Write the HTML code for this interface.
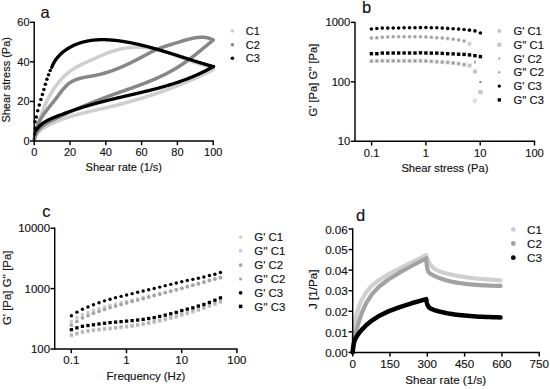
<!DOCTYPE html>
<html><head><meta charset="utf-8"><style>
html,body{margin:0;padding:0;background:#fff;}
svg{display:block;}
text{font-family:"Liberation Sans",sans-serif;fill:#111;stroke:#111;stroke-width:0.15px;}
</style></head><body>
<svg width="550" height="389" viewBox="0 0 550 389">
<rect width="550" height="389" fill="#fff"/>
<path d="M34.41,139 L34.64,138.09 L34.87,137.19 L35.1,136.29 L35.34,135.4 L35.57,134.5 L35.8,133.6 L36.03,132.71 L36.27,131.82 L36.5,130.92 L36.74,130.03 L36.98,129.14 L37.22,128.26 L37.46,127.37 L37.71,126.48 L37.96,125.6 L38.21,124.72 L38.46,123.84 L38.72,122.95 L38.98,122.08 L39.24,121.2 L39.51,120.32 L39.78,119.45 L40.06,118.57 L40.34,117.7 L40.62,116.83 L40.91,115.96 L41.2,115.09 L41.5,114.23 L41.8,113.36 L42.11,112.5 L42.43,111.63 L42.75,110.77 L43.08,109.91 L43.41,109.06 L43.75,108.2 L44.09,107.34 L44.45,106.49 L44.81,105.64 L45.17,104.79 L45.55,103.94 L45.93,103.09 L46.32,102.25 L46.71,101.41 L47.11,100.57 L47.52,99.73 L47.94,98.9 L48.36,98.07 L48.79,97.25 L49.23,96.43 L49.68,95.61 L50.13,94.8 L50.59,93.99 L51.06,93.19 L51.53,92.39 L52.02,91.59 L52.51,90.81 L53.01,90.02 L53.51,89.25 L54.03,88.48 L54.55,87.71 L55.08,86.95 L55.61,86.2 L56.16,85.46 L56.71,84.72 L57.27,83.99 L57.84,83.26 L58.41,82.55 L59,81.84 L59.59,81.14 L60.19,80.45 L60.8,79.76 L61.42,79.09 L62.04,78.42 L62.67,77.77 L63.32,77.12 L63.97,76.48 L64.62,75.85 L65.29,75.23 L65.96,74.62 L66.65,74.03 L67.34,73.44 L68.04,72.86 L68.75,72.29 L69.46,71.74 L70.19,71.2 L70.93,70.66 L71.67,70.14 L72.42,69.64 L73.18,69.14 L73.95,68.65 L74.72,68.17 L75.5,67.71 L76.29,67.25 L77.09,66.8 L77.89,66.36 L78.7,65.92 L79.51,65.5 L80.33,65.08 L81.15,64.66 L81.98,64.25 L82.81,63.85 L83.65,63.45 L84.49,63.06 L85.33,62.67 L86.17,62.29 L87.02,61.91 L87.87,61.53 L88.72,61.15 L89.57,60.77 L90.43,60.4 L91.28,60.03 L92.14,59.65 L93,59.28 L93.85,58.9 L94.71,58.53 L95.56,58.15 L96.42,57.77 L97.27,57.39 L98.12,57.01 L98.98,56.63 L99.83,56.26 L100.68,55.88 L101.53,55.5 L102.39,55.13 L103.24,54.76 L104.1,54.4 L104.95,54.04 L105.81,53.68 L106.67,53.34 L107.53,52.99 L108.39,52.66 L109.26,52.33 L110.13,52.02 L111,51.71 L111.87,51.41 L112.75,51.12 L113.63,50.84 L114.51,50.57 L115.39,50.31 L116.28,50.07 L117.17,49.83 L118.06,49.6 L118.95,49.38 L119.85,49.17 L120.74,48.97 L121.64,48.78 L122.54,48.61 L123.44,48.44 L124.35,48.28 L125.25,48.13 L126.16,47.99 L127.06,47.87 L127.97,47.75 L128.88,47.64 L129.79,47.55 L130.7,47.46 L131.61,47.39 L132.52,47.32 L133.43,47.27 L134.35,47.22 L135.26,47.19 L136.17,47.17 L137.09,47.15 L138,47.15 L138.91,47.16 L139.83,47.18 L140.74,47.21 L141.65,47.25 L142.56,47.3 L143.47,47.36 L144.38,47.44 L145.29,47.52 L146.2,47.61 L147.11,47.72 L148.02,47.83 L148.92,47.96 L149.83,48.1 L150.73,48.24 L151.63,48.4 L152.53,48.57 L153.43,48.75 L154.33,48.94 L155.23,49.14 L156.12,49.34 L157.01,49.56 L157.91,49.78 L158.8,50.02 L159.69,50.25 L160.58,50.5 L161.47,50.76 L162.36,51.02 L163.24,51.28 L164.13,51.56 L165.01,51.83 L165.9,52.12 L166.78,52.41 L167.66,52.7 L168.54,53 L169.42,53.3 L170.3,53.61 L171.18,53.91 L172.06,54.23 L172.94,54.54 L173.81,54.86 L174.69,55.18 L175.56,55.5 L176.44,55.82 L177.31,56.15 L178.19,56.47 L179.06,56.8 L179.94,57.12 L180.81,57.45 L181.68,57.77 L182.55,58.09 L183.42,58.42 L184.3,58.74 L185.17,59.06 L186.04,59.37 L186.91,59.69 L187.78,60 L188.65,60.31 L189.52,60.61 L190.39,60.91 L191.26,61.21 L192.13,61.5 L193,61.79 L193.87,62.08 L194.74,62.37 L195.61,62.65 L196.48,62.93 L197.35,63.2 L198.22,63.48 L199.09,63.76 L199.96,64.03 L200.83,64.31 L201.7,64.59 L202.57,64.86 L203.44,65.14 L204.31,65.42 L205.18,65.7 L206.05,65.98 L206.92,66.27 L207.79,66.56 L208.66,66.85 L209.54,67.15 L210.41,67.45 L211.28,67.75 L212.15,68.06 L213.03,68.38" fill="none" stroke="#cfcfcf" stroke-width="3.5" stroke-linecap="round" stroke-linejoin="round"/>
<path d="M213.13,69.65 L212.43,70.01 L211.73,70.37 L211.02,70.72 L210.32,71.08 L209.62,71.43 L208.92,71.78 L208.21,72.13 L207.51,72.47 L206.81,72.82 L206.1,73.16 L205.4,73.51 L204.69,73.85 L203.99,74.19 L203.28,74.53 L202.57,74.86 L201.86,75.2 L201.16,75.53 L200.45,75.86 L199.74,76.19 L199.03,76.52 L198.32,76.85 L197.61,77.18 L196.9,77.5 L196.19,77.83 L195.47,78.15 L194.76,78.47 L194.05,78.79 L193.33,79.11 L192.62,79.42 L191.91,79.74 L191.19,80.05 L190.48,80.37 L189.76,80.68 L189.04,80.99 L188.33,81.29 L187.61,81.6 L186.89,81.91 L186.17,82.21 L185.45,82.51 L184.74,82.81 L184.02,83.11 L183.3,83.41 L182.57,83.71 L181.85,84 L181.13,84.3 L180.41,84.59 L179.69,84.88 L178.96,85.17 L178.24,85.46 L177.52,85.75 L176.79,86.04 L176.07,86.32 L175.34,86.61 L174.62,86.89 L173.89,87.17 L173.16,87.45 L172.44,87.73 L171.71,88 L170.98,88.28 L170.25,88.55 L169.52,88.83 L168.79,89.1 L168.06,89.37 L167.33,89.64 L166.6,89.91 L165.87,90.18 L165.14,90.44 L164.41,90.71 L163.67,90.97 L162.94,91.23 L162.21,91.49 L161.47,91.75 L160.74,92.01 L160,92.26 L159.27,92.52 L158.53,92.77 L157.8,93.03 L157.06,93.28 L156.32,93.53 L155.59,93.78 L154.85,94.03 L154.11,94.27 L153.37,94.52 L152.63,94.77 L151.89,95.01 L151.15,95.25 L150.41,95.49 L149.67,95.73 L148.93,95.97 L148.19,96.21 L147.44,96.44 L146.7,96.68 L145.96,96.91 L145.21,97.15 L144.47,97.38 L143.73,97.61 L142.98,97.84 L142.24,98.07 L141.49,98.29 L140.74,98.52 L140,98.74 L139.25,98.97 L138.5,99.19 L137.75,99.41 L137.01,99.63 L136.26,99.85 L135.51,100.07 L134.76,100.29 L134.01,100.5 L133.26,100.72 L132.51,100.93 L131.75,101.14 L131,101.36 L130.25,101.57 L129.5,101.78 L128.74,101.98 L127.99,102.19 L127.24,102.4 L126.48,102.6 L125.73,102.81 L124.97,103.01 L124.22,103.21 L123.46,103.41 L122.71,103.61 L121.95,103.81 L121.19,104.01 L120.43,104.21 L119.68,104.4 L118.92,104.6 L118.16,104.79 L117.4,104.98 L116.64,105.17 L115.88,105.36 L115.12,105.55 L114.36,105.74 L113.6,105.93 L112.84,106.12 L112.07,106.3 L111.31,106.49 L110.55,106.67 L109.79,106.85 L109.02,107.04 L108.26,107.22 L107.49,107.4 L106.73,107.58 L105.96,107.75 L105.2,107.93 L104.43,108.11 L103.67,108.28 L102.9,108.46 L102.14,108.64 L101.37,108.81 L100.6,108.99 L99.84,109.16 L99.07,109.34 L98.3,109.51 L97.54,109.68 L96.77,109.86 L96.01,110.03 L95.24,110.21 L94.47,110.39 L93.71,110.56 L92.94,110.74 L92.18,110.92 L91.41,111.09 L90.65,111.27 L89.88,111.45 L89.12,111.63 L88.36,111.81 L87.59,112 L86.83,112.18 L86.07,112.37 L85.31,112.55 L84.55,112.74 L83.79,112.93 L83.03,113.12 L82.27,113.31 L81.51,113.51 L80.75,113.7 L80,113.9 L79.24,114.1 L78.49,114.3 L77.73,114.5 L76.98,114.71 L76.23,114.92 L75.48,115.13 L74.73,115.34 L73.98,115.55 L73.23,115.77 L72.48,115.99 L71.74,116.21 L70.99,116.44 L70.25,116.67 L69.51,116.9 L68.77,117.13 L68.03,117.37 L67.29,117.61 L66.55,117.85 L65.82,118.1 L65.08,118.35 L64.35,118.6 L63.62,118.86 L62.89,119.12 L62.16,119.39 L61.44,119.66 L60.71,119.93 L59.99,120.2 L59.27,120.48 L58.55,120.77 L57.83,121.06 L57.11,121.35 L56.4,121.64 L55.69,121.95 L54.98,122.25 L54.27,122.56 L53.56,122.88 L52.86,123.2 L52.15,123.52 L51.45,123.85 L50.76,124.18 L50.06,124.52 L49.36,124.87 L48.67,125.21 L47.98,125.57 L47.3,125.93 L46.61,126.29 L45.93,126.67 L45.26,127.05 L44.59,127.44 L43.93,127.84 L43.28,128.25 L42.63,128.68 L42,129.12 L41.39,129.58 L40.78,130.05 L40.2,130.54 L39.62,131.05 L39.07,131.58 L38.53,132.13 L38.02,132.71 L37.52,133.3 L37.05,133.92 L36.6,134.57 L36.18,135.25 L35.78,135.95 L35.41,136.69 L35.07,137.45 L34.75,138.25 L34.47,139.08" fill="none" stroke="#cfcfcf" stroke-width="3.5" stroke-linecap="round" stroke-linejoin="round"/>
<path d="M34.55,139.13 L34.58,138.16 L34.64,137.21 L34.71,136.27 L34.81,135.34 L34.93,134.43 L35.08,133.52 L35.24,132.63 L35.42,131.75 L35.63,130.88 L35.85,130.02 L36.09,129.17 L36.35,128.33 L36.63,127.5 L36.92,126.67 L37.24,125.86 L37.56,125.06 L37.91,124.26 L38.27,123.47 L38.64,122.69 L39.03,121.91 L39.43,121.15 L39.84,120.39 L40.27,119.63 L40.7,118.89 L41.15,118.14 L41.61,117.41 L42.08,116.67 L42.56,115.95 L43.05,115.22 L43.55,114.5 L44.05,113.79 L44.57,113.08 L45.09,112.37 L45.61,111.66 L46.15,110.96 L46.69,110.25 L47.23,109.55 L47.78,108.86 L48.33,108.16 L48.88,107.46 L49.44,106.77 L50,106.07 L50.56,105.38 L51.12,104.68 L51.68,103.98 L52.25,103.29 L52.81,102.59 L53.37,101.89 L53.93,101.18 L54.49,100.48 L55.04,99.77 L55.6,99.06 L56.14,98.34 L56.69,97.63 L57.23,96.91 L57.77,96.19 L58.3,95.46 L58.84,94.74 L59.38,94.02 L59.91,93.31 L60.45,92.59 L60.99,91.89 L61.54,91.19 L62.09,90.5 L62.64,89.81 L63.2,89.14 L63.77,88.47 L64.35,87.82 L64.93,87.18 L65.53,86.56 L66.14,85.95 L66.75,85.36 L67.38,84.79 L68.03,84.23 L68.69,83.7 L69.36,83.18 L70.05,82.69 L70.76,82.22 L71.48,81.78 L72.22,81.36 L72.98,80.96 L73.76,80.59 L74.54,80.24 L75.35,79.9 L76.16,79.59 L76.98,79.3 L77.82,79.02 L78.66,78.76 L79.51,78.51 L80.37,78.28 L81.23,78.06 L82.1,77.85 L82.97,77.65 L83.85,77.46 L84.73,77.28 L85.61,77.11 L86.5,76.95 L87.38,76.78 L88.27,76.63 L89.17,76.47 L90.06,76.32 L90.95,76.16 L91.84,76.01 L92.73,75.85 L93.62,75.69 L94.51,75.52 L95.39,75.35 L96.27,75.17 L97.15,74.99 L98.02,74.8 L98.9,74.6 L99.76,74.39 L100.63,74.18 L101.49,73.96 L102.35,73.74 L103.21,73.5 L104.07,73.27 L104.92,73.02 L105.77,72.77 L106.61,72.52 L107.46,72.26 L108.3,71.99 L109.14,71.72 L109.97,71.44 L110.81,71.15 L111.64,70.86 L112.47,70.57 L113.3,70.27 L114.13,69.97 L114.95,69.66 L115.77,69.34 L116.59,69.02 L117.41,68.7 L118.22,68.37 L119.04,68.04 L119.85,67.7 L120.66,67.36 L121.47,67.01 L122.28,66.66 L123.08,66.31 L123.89,65.95 L124.69,65.59 L125.49,65.22 L126.29,64.85 L127.09,64.48 L127.89,64.1 L128.69,63.72 L129.48,63.34 L130.28,62.96 L131.07,62.57 L131.86,62.18 L132.65,61.78 L133.44,61.38 L134.23,60.98 L135.02,60.58 L135.81,60.18 L136.6,59.77 L137.38,59.36 L138.17,58.95 L138.96,58.53 L139.74,58.12 L140.53,57.7 L141.31,57.28 L142.09,56.86 L142.88,56.44 L143.66,56.02 L144.45,55.6 L145.23,55.18 L146.02,54.76 L146.81,54.34 L147.59,53.93 L148.38,53.51 L149.17,53.11 L149.96,52.7 L150.75,52.3 L151.54,51.9 L152.34,51.51 L153.13,51.12 L153.93,50.74 L154.73,50.37 L155.53,50 L156.34,49.64 L157.15,49.29 L157.95,48.94 L158.77,48.61 L159.58,48.28 L160.4,47.97 L161.22,47.66 L162.04,47.36 L162.87,47.07 L163.7,46.79 L164.53,46.51 L165.36,46.24 L166.2,45.98 L167.04,45.71 L167.87,45.46 L168.72,45.2 L169.56,44.95 L170.4,44.7 L171.25,44.45 L172.1,44.19 L172.94,43.94 L173.79,43.69 L174.64,43.43 L175.49,43.17 L176.34,42.9 L177.2,42.64 L178.05,42.37 L178.9,42.1 L179.76,41.83 L180.61,41.57 L181.47,41.3 L182.32,41.04 L183.18,40.77 L184.04,40.52 L184.9,40.26 L185.76,40.02 L186.62,39.77 L187.48,39.54 L188.34,39.31 L189.21,39.09 L190.07,38.88 L190.94,38.68 L191.8,38.49 L192.67,38.31 L193.54,38.14 L194.41,37.98 L195.28,37.84 L196.15,37.71 L197.03,37.6 L197.9,37.5 L198.78,37.42 L199.65,37.35 L200.53,37.31 L201.41,37.28 L202.28,37.28 L203.16,37.3 L204.03,37.35 L204.89,37.43 L205.75,37.53 L206.61,37.66 L207.46,37.83 L208.31,38.03 L209.15,38.27 L209.98,38.54 L210.8,38.85 L211.61,39.2 L212.41,39.6 L213.21,40.04" fill="none" stroke="#878787" stroke-width="3.5" stroke-linecap="round" stroke-linejoin="round"/>
<path d="M212.94,40.24 L212.3,40.77 L211.66,41.31 L211.03,41.84 L210.39,42.37 L209.75,42.91 L209.11,43.44 L208.47,43.97 L207.83,44.51 L207.19,45.04 L206.55,45.57 L205.9,46.11 L205.26,46.64 L204.62,47.17 L203.97,47.71 L203.32,48.24 L202.68,48.77 L202.03,49.3 L201.38,49.83 L200.73,50.36 L200.08,50.89 L199.43,51.41 L198.77,51.94 L198.12,52.46 L197.46,52.99 L196.81,53.51 L196.15,54.03 L195.49,54.55 L194.83,55.06 L194.17,55.58 L193.5,56.09 L192.84,56.6 L192.17,57.11 L191.5,57.62 L190.84,58.12 L190.16,58.62 L189.49,59.12 L188.82,59.62 L188.14,60.12 L187.47,60.61 L186.79,61.1 L186.11,61.58 L185.42,62.07 L184.74,62.55 L184.05,63.03 L183.37,63.5 L182.68,63.97 L181.98,64.44 L181.29,64.9 L180.6,65.36 L179.9,65.82 L179.2,66.27 L178.5,66.72 L177.79,67.17 L177.09,67.61 L176.38,68.04 L175.67,68.48 L174.95,68.91 L174.24,69.33 L173.52,69.75 L172.8,70.17 L172.08,70.58 L171.36,70.98 L170.63,71.39 L169.9,71.79 L169.17,72.18 L168.44,72.57 L167.7,72.96 L166.97,73.35 L166.23,73.73 L165.49,74.1 L164.75,74.47 L164,74.84 L163.26,75.21 L162.51,75.57 L161.76,75.93 L161.01,76.29 L160.26,76.64 L159.51,76.99 L158.75,77.34 L157.99,77.68 L157.23,78.02 L156.47,78.36 L155.71,78.7 L154.95,79.03 L154.19,79.36 L153.42,79.69 L152.65,80.01 L151.88,80.33 L151.11,80.65 L150.34,80.97 L149.57,81.29 L148.8,81.6 L148.03,81.91 L147.25,82.22 L146.47,82.53 L145.7,82.83 L144.92,83.13 L144.14,83.44 L143.36,83.73 L142.58,84.03 L141.8,84.33 L141.01,84.62 L140.23,84.92 L139.45,85.21 L138.66,85.5 L137.88,85.79 L137.09,86.08 L136.31,86.36 L135.52,86.65 L134.73,86.93 L133.94,87.22 L133.15,87.5 L132.37,87.78 L131.58,88.06 L130.79,88.34 L130,88.62 L129.21,88.9 L128.42,89.18 L127.63,89.46 L126.83,89.74 L126.04,90.02 L125.25,90.29 L124.46,90.57 L123.67,90.85 L122.88,91.12 L122.09,91.4 L121.3,91.68 L120.51,91.96 L119.72,92.23 L118.93,92.51 L118.14,92.79 L117.34,93.07 L116.56,93.35 L115.77,93.63 L114.98,93.91 L114.19,94.19 L113.4,94.47 L112.61,94.75 L111.82,95.03 L111.04,95.32 L110.25,95.6 L109.46,95.89 L108.68,96.18 L107.89,96.46 L107.11,96.75 L106.33,97.05 L105.55,97.34 L104.76,97.63 L103.98,97.92 L103.2,98.22 L102.42,98.52 L101.64,98.81 L100.86,99.11 L100.08,99.41 L99.31,99.72 L98.53,100.02 L97.75,100.32 L96.98,100.63 L96.2,100.93 L95.43,101.24 L94.65,101.55 L93.88,101.86 L93.1,102.17 L92.33,102.48 L91.56,102.79 L90.78,103.1 L90.01,103.42 L89.24,103.73 L88.47,104.05 L87.7,104.37 L86.93,104.69 L86.16,105.01 L85.39,105.33 L84.62,105.65 L83.85,105.97 L83.08,106.3 L82.31,106.62 L81.54,106.95 L80.77,107.27 L80.01,107.6 L79.24,107.93 L78.47,108.26 L77.71,108.59 L76.94,108.92 L76.17,109.26 L75.41,109.59 L74.64,109.93 L73.87,110.26 L73.11,110.6 L72.34,110.94 L71.58,111.28 L70.81,111.62 L70.05,111.96 L69.28,112.3 L68.52,112.64 L67.75,112.98 L66.99,113.33 L66.22,113.67 L65.46,114.02 L64.69,114.37 L63.93,114.71 L63.17,115.06 L62.4,115.41 L61.64,115.76 L60.87,116.11 L60.11,116.47 L59.34,116.82 L58.58,117.17 L57.81,117.53 L57.05,117.88 L56.28,118.24 L55.52,118.6 L54.76,118.95 L53.99,119.32 L53.23,119.68 L52.47,120.05 L51.72,120.42 L50.97,120.79 L50.22,121.17 L49.48,121.56 L48.75,121.96 L48.03,122.36 L47.31,122.77 L46.6,123.2 L45.9,123.63 L45.22,124.07 L44.54,124.53 L43.88,124.99 L43.23,125.47 L42.59,125.97 L41.97,126.47 L41.36,127 L40.77,127.54 L40.19,128.09 L39.64,128.67 L39.1,129.26 L38.58,129.87 L38.08,130.5 L37.6,131.16 L37.15,131.83 L36.71,132.52 L36.3,133.24 L35.92,133.98 L35.55,134.75 L35.22,135.54 L34.91,136.35 L34.62,137.2 L34.37,138.07 L34.14,138.96" fill="none" stroke="#878787" stroke-width="3.5" stroke-linecap="round" stroke-linejoin="round"/>
<path d="M213.44,66.48 L212.77,66.87 L212.09,67.25 L211.42,67.64 L210.74,68.01 L210.07,68.39 L209.39,68.76 L208.71,69.12 L208.03,69.49 L207.35,69.85 L206.66,70.21 L205.98,70.56 L205.29,70.91 L204.6,71.26 L203.92,71.6 L203.23,71.94 L202.54,72.28 L201.84,72.61 L201.15,72.94 L200.46,73.27 L199.76,73.6 L199.06,73.92 L198.37,74.24 L197.67,74.55 L196.97,74.86 L196.26,75.17 L195.56,75.48 L194.86,75.79 L194.15,76.09 L193.45,76.39 L192.74,76.68 L192.04,76.98 L191.33,77.27 L190.62,77.55 L189.91,77.84 L189.2,78.12 L188.48,78.4 L187.77,78.68 L187.05,78.95 L186.34,79.23 L185.62,79.5 L184.91,79.76 L184.19,80.03 L183.47,80.29 L182.75,80.55 L182.03,80.81 L181.31,81.06 L180.59,81.32 L179.86,81.57 L179.14,81.82 L178.41,82.07 L177.69,82.31 L176.96,82.55 L176.24,82.79 L175.51,83.03 L174.78,83.27 L174.05,83.51 L173.32,83.74 L172.59,83.97 L171.86,84.2 L171.13,84.43 L170.4,84.65 L169.66,84.87 L168.93,85.1 L168.19,85.32 L167.46,85.54 L166.72,85.75 L165.99,85.97 L165.25,86.18 L164.52,86.39 L163.78,86.6 L163.04,86.81 L162.3,87.02 L161.56,87.23 L160.82,87.43 L160.08,87.64 L159.34,87.84 L158.6,88.04 L157.86,88.24 L157.12,88.44 L156.38,88.63 L155.63,88.83 L154.89,89.02 L154.15,89.22 L153.4,89.41 L152.66,89.6 L151.91,89.79 L151.17,89.98 L150.42,90.17 L149.68,90.36 L148.93,90.54 L148.19,90.73 L147.44,90.91 L146.7,91.1 L145.95,91.28 L145.2,91.46 L144.46,91.65 L143.71,91.83 L142.96,92.01 L142.21,92.19 L141.47,92.37 L140.72,92.54 L139.97,92.72 L139.22,92.9 L138.47,93.08 L137.73,93.25 L136.98,93.43 L136.23,93.6 L135.48,93.78 L134.73,93.96 L133.98,94.13 L133.24,94.3 L132.49,94.48 L131.74,94.65 L130.99,94.83 L130.24,95 L129.49,95.17 L128.75,95.35 L128,95.52 L127.25,95.69 L126.5,95.87 L125.75,96.04 L125.01,96.22 L124.26,96.39 L123.51,96.56 L122.76,96.74 L122.02,96.91 L121.27,97.09 L120.52,97.26 L119.78,97.44 L119.03,97.61 L118.28,97.79 L117.54,97.96 L116.79,98.14 L116.05,98.32 L115.3,98.49 L114.56,98.67 L113.81,98.85 L113.07,99.03 L112.33,99.21 L111.58,99.39 L110.84,99.57 L110.1,99.75 L109.36,99.93 L108.61,100.12 L107.87,100.3 L107.13,100.49 L106.39,100.67 L105.65,100.86 L104.91,101.04 L104.17,101.23 L103.43,101.42 L102.69,101.61 L101.96,101.8 L101.22,101.99 L100.48,102.19 L99.74,102.38 L99.01,102.58 L98.27,102.77 L97.53,102.97 L96.8,103.17 L96.06,103.37 L95.33,103.57 L94.59,103.77 L93.86,103.97 L93.12,104.18 L92.39,104.39 L91.66,104.59 L90.92,104.8 L90.19,105.01 L89.45,105.22 L88.72,105.43 L87.99,105.65 L87.26,105.86 L86.52,106.08 L85.79,106.3 L85.06,106.52 L84.33,106.74 L83.6,106.96 L82.86,107.19 L82.13,107.42 L81.4,107.64 L80.67,107.87 L79.94,108.11 L79.21,108.34 L78.48,108.57 L77.75,108.81 L77.02,109.05 L76.29,109.29 L75.56,109.53 L74.83,109.77 L74.1,110.02 L73.37,110.27 L72.64,110.52 L71.91,110.77 L71.18,111.02 L70.45,111.28 L69.72,111.54 L68.99,111.79 L68.26,112.06 L67.53,112.32 L66.8,112.58 L66.07,112.85 L65.34,113.11 L64.61,113.38 L63.88,113.65 L63.16,113.92 L62.43,114.2 L61.7,114.47 L60.97,114.74 L60.25,115.02 L59.52,115.3 L58.79,115.57 L58.07,115.85 L57.34,116.13 L56.62,116.41 L55.9,116.7 L55.18,116.98 L54.46,117.27 L53.74,117.56 L53.03,117.86 L52.32,118.16 L51.61,118.46 L50.91,118.77 L50.22,119.09 L49.53,119.41 L48.84,119.74 L48.16,120.08 L47.49,120.43 L46.83,120.79 L46.18,121.15 L45.53,121.53 L44.89,121.92 L44.26,122.31 L43.65,122.72 L43.04,123.15 L42.44,123.58 L41.85,124.03 L41.28,124.49 L40.72,124.97 L40.17,125.46 L39.63,125.96 L39.11,126.49 L38.6,127.03 L38.11,127.58 L37.63,128.16 L37.17,128.75 L36.72,129.36 L36.29,129.99 L35.88,130.64" fill="none" stroke="#000000" stroke-width="3.3" stroke-linecap="round" stroke-linejoin="round"/>
<path d="M51.75,67.36 L52.01,66.67 L52.29,65.98 L52.58,65.31 L52.89,64.64 L53.21,63.99 L53.54,63.34 L53.89,62.7 L54.25,62.07 L54.62,61.46 L55,60.85 L55.4,60.25 L55.81,59.66 L56.23,59.08 L56.66,58.51 L57.1,57.94 L57.55,57.39 L58.01,56.85 L58.48,56.31 L58.97,55.79 L59.46,55.27 L59.96,54.76 L60.47,54.26 L60.99,53.78 L61.51,53.3 L62.05,52.83 L62.59,52.36 L63.14,51.91 L63.69,51.47 L64.25,51.04 L64.82,50.61 L65.4,50.19 L65.98,49.79 L66.57,49.39 L67.16,49 L67.75,48.62 L68.35,48.25 L68.96,47.88 L69.57,47.53 L70.18,47.19 L70.8,46.85 L71.42,46.52 L72.04,46.21 L72.67,45.9 L73.3,45.59 L73.93,45.3 L74.56,45.02 L75.2,44.74 L75.84,44.48 L76.48,44.22 L77.12,43.97 L77.77,43.72 L78.42,43.49 L79.07,43.26 L79.73,43.04 L80.39,42.83 L81.04,42.63 L81.71,42.43 L82.37,42.24 L83.04,42.06 L83.7,41.89 L84.37,41.72 L85.05,41.56 L85.72,41.41 L86.4,41.26 L87.08,41.13 L87.76,40.99 L88.44,40.87 L89.12,40.75 L89.81,40.64 L90.49,40.54 L91.18,40.44 L91.87,40.35 L92.56,40.26 L93.26,40.18 L93.95,40.11 L94.65,40.04 L95.35,39.98 L96.04,39.93 L96.74,39.88 L97.44,39.83 L98.15,39.8 L98.85,39.76 L99.55,39.74 L100.26,39.72 L100.97,39.7 L101.67,39.69 L102.38,39.68 L103.09,39.68 L103.8,39.69 L104.51,39.7 L105.22,39.71 L105.93,39.73 L106.65,39.76 L107.36,39.79 L108.07,39.82 L108.79,39.86 L109.5,39.9 L110.21,39.95 L110.93,40 L111.64,40.05 L112.36,40.11 L113.07,40.17 L113.79,40.24 L114.51,40.31 L115.22,40.39 L115.94,40.47 L116.65,40.55 L117.37,40.63 L118.08,40.72 L118.8,40.81 L119.51,40.91 L120.23,41.01 L120.94,41.11 L121.65,41.22 L122.37,41.33 L123.08,41.44 L123.79,41.55 L124.5,41.67 L125.22,41.79 L125.93,41.91 L126.64,42.03 L127.34,42.16 L128.05,42.29 L128.76,42.42 L129.47,42.55 L130.17,42.69 L130.87,42.83 L131.58,42.97 L132.28,43.11 L132.98,43.25 L133.68,43.4 L134.38,43.54 L135.08,43.69 L135.78,43.84 L136.47,44 L137.17,44.15 L137.86,44.31 L138.55,44.46 L139.25,44.62 L139.94,44.79 L140.63,44.95 L141.32,45.11 L142.01,45.28 L142.7,45.45 L143.38,45.61 L144.07,45.78 L144.75,45.96 L145.44,46.13 L146.12,46.3 L146.81,46.48 L147.49,46.66 L148.17,46.84 L148.85,47.02 L149.53,47.2 L150.22,47.38 L150.89,47.56 L151.57,47.75 L152.25,47.94 L152.93,48.12 L153.61,48.31 L154.28,48.5 L154.96,48.69 L155.64,48.88 L156.31,49.08 L156.99,49.27 L157.66,49.47 L158.33,49.66 L159.01,49.86 L159.68,50.06 L160.35,50.26 L161.03,50.45 L161.7,50.65 L162.37,50.86 L163.04,51.06 L163.71,51.26 L164.38,51.46 L165.05,51.67 L165.72,51.87 L166.39,52.08 L167.06,52.29 L167.73,52.49 L168.4,52.7 L169.07,52.91 L169.74,53.12 L170.41,53.33 L171.07,53.53 L171.74,53.75 L172.41,53.96 L173.08,54.17 L173.75,54.38 L174.41,54.59 L175.08,54.8 L175.75,55.01 L176.42,55.23 L177.09,55.44 L177.75,55.65 L178.42,55.87 L179.09,56.08 L179.76,56.29 L180.43,56.51 L181.09,56.72 L181.76,56.94 L182.43,57.15 L183.1,57.36 L183.77,57.58 L184.44,57.79 L185.11,58.01 L185.78,58.22 L186.45,58.44 L187.12,58.65 L187.79,58.86 L188.46,59.08 L189.13,59.29 L189.8,59.51 L190.47,59.72 L191.14,59.93 L191.82,60.14 L192.49,60.36 L193.16,60.57 L193.84,60.78 L194.51,60.99 L195.18,61.2 L195.86,61.41 L196.53,61.62 L197.21,61.83 L197.89,62.04 L198.56,62.25 L199.24,62.46 L199.92,62.67 L200.6,62.87 L201.27,63.08 L201.95,63.29 L202.63,63.49 L203.32,63.69 L204,63.9 L204.68,64.1 L205.36,64.3 L206.05,64.5 L206.73,64.71 L207.42,64.9 L208.1,65.1 L208.79,65.3 L209.48,65.5 L210.16,65.69 L210.85,65.89 L211.54,66.08 L212.23,66.28 L212.92,66.47 L213.62,66.66" fill="none" stroke="#000000" stroke-width="3.3" stroke-linecap="round" stroke-linejoin="round"/>
<circle cx="50.2" cy="70.6" r="1.75" fill="#000000"/>
<circle cx="48.5" cy="74.7" r="1.75" fill="#000000"/>
<circle cx="46.9" cy="79.2" r="1.75" fill="#000000"/>
<circle cx="45.4" cy="84.2" r="1.75" fill="#000000"/>
<circle cx="43.9" cy="89.5" r="1.75" fill="#000000"/>
<circle cx="42.4" cy="94.4" r="1.75" fill="#000000"/>
<circle cx="40.9" cy="99.5" r="1.75" fill="#000000"/>
<circle cx="39.3" cy="105.1" r="1.75" fill="#000000"/>
<circle cx="37.7" cy="110.8" r="1.75" fill="#000000"/>
<circle cx="36.3" cy="116.9" r="1.75" fill="#000000"/>
<circle cx="35" cy="121.8" r="1.75" fill="#000000"/>
<circle cx="35.3" cy="128.5" r="1.75" fill="#000000"/>
<circle cx="34.7" cy="134" r="1.75" fill="#000000"/>
<line x1="34.2" y1="21.65" x2="34.2" y2="141.65" stroke="#000" stroke-width="1.45"/>
<line x1="33.55" y1="141" x2="213.85" y2="141" stroke="#000" stroke-width="1.45"/>
<line x1="30" y1="141" x2="34.2" y2="141" stroke="#000" stroke-width="1.45"/>
<text x="29.6" y="144.9" font-size="11.0" text-anchor="end" >0</text>
<line x1="30" y1="101.43" x2="34.2" y2="101.43" stroke="#000" stroke-width="1.45"/>
<text x="29.6" y="105.33" font-size="11.0" text-anchor="end" >20</text>
<line x1="30" y1="61.87" x2="34.2" y2="61.87" stroke="#000" stroke-width="1.45"/>
<text x="29.6" y="65.77" font-size="11.0" text-anchor="end" >40</text>
<line x1="30" y1="22.3" x2="34.2" y2="22.3" stroke="#000" stroke-width="1.45"/>
<text x="29.6" y="26.2" font-size="11.0" text-anchor="end" >60</text>
<line x1="34.2" y1="141" x2="34.2" y2="145.2" stroke="#000" stroke-width="1.45"/>
<text x="34.2" y="156.4" font-size="11.0" text-anchor="middle" >0</text>
<line x1="70" y1="141" x2="70" y2="145.2" stroke="#000" stroke-width="1.45"/>
<text x="70" y="156.4" font-size="11.0" text-anchor="middle" >20</text>
<line x1="105.8" y1="141" x2="105.8" y2="145.2" stroke="#000" stroke-width="1.45"/>
<text x="105.8" y="156.4" font-size="11.0" text-anchor="middle" >40</text>
<line x1="141.6" y1="141" x2="141.6" y2="145.2" stroke="#000" stroke-width="1.45"/>
<text x="141.6" y="156.4" font-size="11.0" text-anchor="middle" >60</text>
<line x1="177.4" y1="141" x2="177.4" y2="145.2" stroke="#000" stroke-width="1.45"/>
<text x="177.4" y="156.4" font-size="11.0" text-anchor="middle" >80</text>
<line x1="213.2" y1="141" x2="213.2" y2="145.2" stroke="#000" stroke-width="1.45"/>
<text x="213.2" y="156.4" font-size="11.0" text-anchor="middle" >100</text>
<text x="123.8" y="170.7" font-size="11.0" text-anchor="middle" >Shear rate (1/s)</text>
<text transform="translate(10.1,79.8) rotate(-90)" font-size="11.0" text-anchor="middle">Shear stress (Pa)</text>
<text x="40.4" y="17.5" font-size="16.5" text-anchor="start" >a</text>
<circle cx="232.4" cy="30.9" r="1.8" fill="#cfcfcf"/>
<text x="245.7" y="34.85" font-size="11.0" text-anchor="start" >C1</text>
<circle cx="232.4" cy="44.7" r="1.8" fill="#878787"/>
<text x="245.7" y="48.65" font-size="11.0" text-anchor="start" >C2</text>
<circle cx="232.4" cy="58.3" r="1.8" fill="#000000"/>
<text x="245.7" y="62.25" font-size="11.0" text-anchor="start" >C3</text>
<rect x="369.45" y="59.15" width="3.9" height="3.9" fill="#c4c4c4"/>
<rect x="374.9" y="58.95" width="3.9" height="3.9" fill="#c4c4c4"/>
<rect x="380.35" y="58.95" width="3.9" height="3.9" fill="#c4c4c4"/>
<rect x="385.8" y="58.95" width="3.9" height="3.9" fill="#c4c4c4"/>
<rect x="391.25" y="58.95" width="3.9" height="3.9" fill="#c4c4c4"/>
<rect x="396.7" y="58.95" width="3.9" height="3.9" fill="#c4c4c4"/>
<rect x="402.15" y="58.95" width="3.9" height="3.9" fill="#c4c4c4"/>
<rect x="407.6" y="58.95" width="3.9" height="3.9" fill="#c4c4c4"/>
<rect x="413.05" y="58.95" width="3.9" height="3.9" fill="#c4c4c4"/>
<rect x="418.5" y="58.85" width="3.9" height="3.9" fill="#c4c4c4"/>
<rect x="423.95" y="59.15" width="3.9" height="3.9" fill="#c4c4c4"/>
<rect x="429.4" y="59.45" width="3.9" height="3.9" fill="#c4c4c4"/>
<rect x="434.85" y="59.75" width="3.9" height="3.9" fill="#c4c4c4"/>
<rect x="440.3" y="60.15" width="3.9" height="3.9" fill="#c4c4c4"/>
<rect x="445.75" y="60.45" width="3.9" height="3.9" fill="#c4c4c4"/>
<rect x="451.2" y="61.05" width="3.9" height="3.9" fill="#c4c4c4"/>
<rect x="456.65" y="61.75" width="3.9" height="3.9" fill="#c4c4c4"/>
<rect x="462.1" y="62.65" width="3.9" height="3.9" fill="#c4c4c4"/>
<rect x="467.55" y="63.65" width="3.9" height="3.9" fill="#c4c4c4"/>
<rect x="472.95" y="69.6" width="4" height="4" fill="#c4c4c4"/>
<rect x="478.3" y="90.1" width="4.2" height="4.2" fill="#c4c4c4"/>
<circle cx="371.4" cy="38" r="2" fill="#c4c4c4"/>
<circle cx="376.85" cy="37.7" r="2" fill="#c4c4c4"/>
<circle cx="382.3" cy="37.3" r="2" fill="#c4c4c4"/>
<circle cx="387.75" cy="37" r="2" fill="#c4c4c4"/>
<circle cx="393.2" cy="36.7" r="2" fill="#c4c4c4"/>
<circle cx="398.65" cy="36.7" r="2" fill="#c4c4c4"/>
<circle cx="404.1" cy="36.7" r="2" fill="#c4c4c4"/>
<circle cx="409.55" cy="36.7" r="2" fill="#c4c4c4"/>
<circle cx="415" cy="36.7" r="2" fill="#c4c4c4"/>
<circle cx="420.45" cy="36.8" r="2" fill="#c4c4c4"/>
<circle cx="425.9" cy="37.1" r="2" fill="#c4c4c4"/>
<circle cx="431.35" cy="37.3" r="2" fill="#c4c4c4"/>
<circle cx="436.8" cy="37.7" r="2" fill="#c4c4c4"/>
<circle cx="442.25" cy="38" r="2" fill="#c4c4c4"/>
<circle cx="447.7" cy="38.6" r="2" fill="#c4c4c4"/>
<circle cx="453.15" cy="39.3" r="2" fill="#c4c4c4"/>
<circle cx="458.6" cy="39.9" r="2" fill="#c4c4c4"/>
<circle cx="464.05" cy="40.9" r="2" fill="#c4c4c4"/>
<circle cx="469.5" cy="43.8" r="2.1" fill="#cfcfcf"/>
<circle cx="474.95" cy="100.8" r="2.1" fill="#cfcfcf"/>
<circle cx="474.95" cy="100.8" r="1" fill="#eee"/>
<rect x="370.5" y="60.2" width="1.8" height="1.8" fill="#8e8e8e"/>
<rect x="375.95" y="60" width="1.8" height="1.8" fill="#8e8e8e"/>
<rect x="381.4" y="60" width="1.8" height="1.8" fill="#8e8e8e"/>
<rect x="386.85" y="60" width="1.8" height="1.8" fill="#8e8e8e"/>
<rect x="392.3" y="60" width="1.8" height="1.8" fill="#8e8e8e"/>
<rect x="397.75" y="60" width="1.8" height="1.8" fill="#8e8e8e"/>
<rect x="403.2" y="60" width="1.8" height="1.8" fill="#8e8e8e"/>
<rect x="408.65" y="60" width="1.8" height="1.8" fill="#8e8e8e"/>
<rect x="414.1" y="60" width="1.8" height="1.8" fill="#8e8e8e"/>
<rect x="419.55" y="59.9" width="1.8" height="1.8" fill="#8e8e8e"/>
<rect x="425" y="60.2" width="1.8" height="1.8" fill="#8e8e8e"/>
<rect x="430.45" y="60.5" width="1.8" height="1.8" fill="#8e8e8e"/>
<rect x="435.9" y="60.8" width="1.8" height="1.8" fill="#8e8e8e"/>
<rect x="441.35" y="61.2" width="1.8" height="1.8" fill="#8e8e8e"/>
<rect x="446.8" y="61.5" width="1.8" height="1.8" fill="#8e8e8e"/>
<rect x="452.25" y="62.1" width="1.8" height="1.8" fill="#8e8e8e"/>
<rect x="457.7" y="62.8" width="1.8" height="1.8" fill="#8e8e8e"/>
<rect x="463.15" y="63.7" width="1.8" height="1.8" fill="#8e8e8e"/>
<circle cx="371.4" cy="38" r="1" fill="#8e8e8e"/>
<circle cx="376.85" cy="37.7" r="1" fill="#8e8e8e"/>
<circle cx="382.3" cy="37.3" r="1" fill="#8e8e8e"/>
<circle cx="387.75" cy="37" r="1" fill="#8e8e8e"/>
<circle cx="393.2" cy="36.7" r="1" fill="#8e8e8e"/>
<circle cx="398.65" cy="36.7" r="1" fill="#8e8e8e"/>
<circle cx="404.1" cy="36.7" r="1" fill="#8e8e8e"/>
<circle cx="409.55" cy="36.7" r="1" fill="#8e8e8e"/>
<circle cx="415" cy="36.7" r="1" fill="#8e8e8e"/>
<circle cx="420.45" cy="36.8" r="1" fill="#8e8e8e"/>
<circle cx="425.9" cy="37.1" r="1" fill="#8e8e8e"/>
<circle cx="431.35" cy="37.3" r="1" fill="#8e8e8e"/>
<circle cx="436.8" cy="37.7" r="1" fill="#8e8e8e"/>
<circle cx="442.25" cy="38" r="1" fill="#8e8e8e"/>
<circle cx="447.7" cy="38.6" r="1" fill="#8e8e8e"/>
<circle cx="453.15" cy="39.3" r="1" fill="#8e8e8e"/>
<circle cx="458.6" cy="39.9" r="1" fill="#8e8e8e"/>
<circle cx="464.05" cy="40.9" r="1" fill="#8e8e8e"/>
<rect x="474.2" y="62.05" width="1.5" height="1.5" fill="#8e8e8e"/>
<rect x="474.2" y="60.55" width="1.5" height="1.5" fill="#8e8e8e"/>
<rect x="479.4" y="81" width="2" height="2" fill="#808080"/>
<rect x="369.7" y="52" width="3.4" height="3.4" fill="#000000"/>
<rect x="375.15" y="52" width="3.4" height="3.4" fill="#000000"/>
<rect x="380.6" y="51.4" width="3.4" height="3.4" fill="#000000"/>
<rect x="386.05" y="51.4" width="3.4" height="3.4" fill="#000000"/>
<rect x="391.5" y="51.3" width="3.4" height="3.4" fill="#000000"/>
<rect x="396.95" y="51.3" width="3.4" height="3.4" fill="#000000"/>
<rect x="402.4" y="51.3" width="3.4" height="3.4" fill="#000000"/>
<rect x="407.85" y="51.3" width="3.4" height="3.4" fill="#000000"/>
<rect x="413.3" y="51.3" width="3.4" height="3.4" fill="#000000"/>
<rect x="418.75" y="51.1" width="3.4" height="3.4" fill="#000000"/>
<rect x="424.2" y="51.3" width="3.4" height="3.4" fill="#000000"/>
<rect x="429.65" y="51.4" width="3.4" height="3.4" fill="#000000"/>
<rect x="435.1" y="51.4" width="3.4" height="3.4" fill="#000000"/>
<rect x="440.55" y="51.7" width="3.4" height="3.4" fill="#000000"/>
<rect x="446" y="52" width="3.4" height="3.4" fill="#000000"/>
<rect x="451.45" y="52.2" width="3.4" height="3.4" fill="#000000"/>
<rect x="456.9" y="52.5" width="3.4" height="3.4" fill="#000000"/>
<rect x="462.35" y="52.7" width="3.4" height="3.4" fill="#000000"/>
<rect x="467.8" y="53.2" width="3.4" height="3.4" fill="#000000"/>
<rect x="473.25" y="54" width="3.4" height="3.4" fill="#000000"/>
<rect x="478.7" y="54.9" width="3.4" height="3.4" fill="#000000"/>
<circle cx="371.4" cy="29" r="1.8" fill="#000000"/>
<circle cx="376.85" cy="28.5" r="1.8" fill="#000000"/>
<circle cx="382.3" cy="28.1" r="1.8" fill="#000000"/>
<circle cx="387.75" cy="28.1" r="1.8" fill="#000000"/>
<circle cx="393.2" cy="28" r="1.8" fill="#000000"/>
<circle cx="398.65" cy="28" r="1.8" fill="#000000"/>
<circle cx="404.1" cy="27.8" r="1.8" fill="#000000"/>
<circle cx="409.55" cy="27.8" r="1.8" fill="#000000"/>
<circle cx="415" cy="27.7" r="1.8" fill="#000000"/>
<circle cx="420.45" cy="27.6" r="1.8" fill="#000000"/>
<circle cx="425.9" cy="27.5" r="1.8" fill="#000000"/>
<circle cx="431.35" cy="27.7" r="1.8" fill="#000000"/>
<circle cx="436.8" cy="27.7" r="1.8" fill="#000000"/>
<circle cx="442.25" cy="28.1" r="1.8" fill="#000000"/>
<circle cx="447.7" cy="28.4" r="1.8" fill="#000000"/>
<circle cx="453.15" cy="28.7" r="1.8" fill="#000000"/>
<circle cx="458.6" cy="29.1" r="1.8" fill="#000000"/>
<circle cx="464.05" cy="29.55" r="1.8" fill="#000000"/>
<circle cx="469.5" cy="30.15" r="1.8" fill="#000000"/>
<circle cx="474.95" cy="30.9" r="1.8" fill="#000000"/>
<circle cx="480.4" cy="33" r="1.8" fill="#000000"/>
<line x1="355" y1="21.75" x2="355" y2="141.95" stroke="#000" stroke-width="1.45"/>
<line x1="354.35" y1="141.3" x2="535.15" y2="141.3" stroke="#000" stroke-width="1.45"/>
<line x1="350.8" y1="22.4" x2="355" y2="22.4" stroke="#000" stroke-width="1.45"/>
<text x="350.3" y="26.37" font-size="11.2" text-anchor="end" >1000</text>
<line x1="350.8" y1="81.85" x2="355" y2="81.85" stroke="#000" stroke-width="1.45"/>
<text x="350.3" y="85.82" font-size="11.2" text-anchor="end" >100</text>
<line x1="350.8" y1="141.3" x2="355" y2="141.3" stroke="#000" stroke-width="1.45"/>
<text x="350.3" y="145.27" font-size="11.2" text-anchor="end" >10</text>
<line x1="371.6" y1="141.3" x2="371.6" y2="145.5" stroke="#000" stroke-width="1.45"/>
<text x="371.6" y="156.7" font-size="11.2" text-anchor="middle" >0.1</text>
<line x1="425.9" y1="141.3" x2="425.9" y2="145.5" stroke="#000" stroke-width="1.45"/>
<text x="425.9" y="156.7" font-size="11.2" text-anchor="middle" >1</text>
<line x1="480.2" y1="141.3" x2="480.2" y2="145.5" stroke="#000" stroke-width="1.45"/>
<text x="480.2" y="156.7" font-size="11.2" text-anchor="middle" >10</text>
<line x1="534.5" y1="141.3" x2="534.5" y2="145.5" stroke="#000" stroke-width="1.45"/>
<text x="534.5" y="156.7" font-size="11.2" text-anchor="middle" >100</text>
<text x="444.9" y="171.6" font-size="11.2" text-anchor="middle" >Shear stress (Pa)</text>
<text transform="translate(317,80.1) rotate(-90)" font-size="11.2" text-anchor="middle">G' [Pa] G'' [Pa]</text>
<text x="362" y="13" font-size="16.5" text-anchor="start" >b</text>
<circle cx="499.3" cy="30.9" r="2" fill="#c4c4c4"/>
<text x="513.5" y="34.92" font-size="11.2" text-anchor="start" >G' C1</text>
<rect x="497.35" y="42.75" width="3.9" height="3.9" fill="#c4c4c4"/>
<text x="513.5" y="48.72" font-size="11.2" text-anchor="start" >G'' C1</text>
<circle cx="499.3" cy="58.5" r="1" fill="#8e8e8e"/>
<text x="513.5" y="62.52" font-size="11.2" text-anchor="start" >G' C2</text>
<rect x="498.35" y="71.35" width="1.9" height="1.9" fill="#8e8e8e"/>
<text x="513.5" y="76.32" font-size="11.2" text-anchor="start" >G'' C2</text>
<circle cx="499.3" cy="86.1" r="1.7" fill="#000000"/>
<text x="513.5" y="90.12" font-size="11.2" text-anchor="start" >G' C3</text>
<rect x="497.65" y="98.25" width="3.3" height="3.3" fill="#000000"/>
<text x="513.5" y="103.92" font-size="11.2" text-anchor="start" >G'' C3</text>
<rect x="69.7" y="333.9" width="3.4" height="3.4" fill="#cdcdcd"/>
<rect x="75.22" y="332.32" width="3.4" height="3.4" fill="#cdcdcd"/>
<rect x="80.74" y="330.79" width="3.4" height="3.4" fill="#cdcdcd"/>
<rect x="86.26" y="329.73" width="3.4" height="3.4" fill="#cdcdcd"/>
<rect x="91.78" y="329.01" width="3.4" height="3.4" fill="#cdcdcd"/>
<rect x="97.3" y="328.3" width="3.4" height="3.4" fill="#cdcdcd"/>
<rect x="102.82" y="327.7" width="3.4" height="3.4" fill="#cdcdcd"/>
<rect x="108.34" y="327.11" width="3.4" height="3.4" fill="#cdcdcd"/>
<rect x="113.86" y="326.51" width="3.4" height="3.4" fill="#cdcdcd"/>
<rect x="119.38" y="325.91" width="3.4" height="3.4" fill="#cdcdcd"/>
<rect x="124.9" y="325.22" width="3.4" height="3.4" fill="#cdcdcd"/>
<rect x="130.42" y="324.52" width="3.4" height="3.4" fill="#cdcdcd"/>
<rect x="135.94" y="323.67" width="3.4" height="3.4" fill="#cdcdcd"/>
<rect x="141.46" y="322.82" width="3.4" height="3.4" fill="#cdcdcd"/>
<rect x="146.98" y="321.73" width="3.4" height="3.4" fill="#cdcdcd"/>
<rect x="152.5" y="320.64" width="3.4" height="3.4" fill="#cdcdcd"/>
<rect x="158.02" y="319.35" width="3.4" height="3.4" fill="#cdcdcd"/>
<rect x="163.54" y="318.04" width="3.4" height="3.4" fill="#cdcdcd"/>
<rect x="169.06" y="316.6" width="3.4" height="3.4" fill="#cdcdcd"/>
<rect x="174.58" y="315.16" width="3.4" height="3.4" fill="#cdcdcd"/>
<rect x="180.1" y="313.5" width="3.4" height="3.4" fill="#cdcdcd"/>
<rect x="185.62" y="311.82" width="3.4" height="3.4" fill="#cdcdcd"/>
<rect x="191.14" y="310.18" width="3.4" height="3.4" fill="#cdcdcd"/>
<rect x="196.66" y="308.54" width="3.4" height="3.4" fill="#cdcdcd"/>
<rect x="202.18" y="306.56" width="3.4" height="3.4" fill="#cdcdcd"/>
<rect x="207.7" y="304.57" width="3.4" height="3.4" fill="#cdcdcd"/>
<rect x="213.22" y="302.47" width="3.4" height="3.4" fill="#cdcdcd"/>
<rect x="218.74" y="300.36" width="3.4" height="3.4" fill="#cdcdcd"/>
<rect x="69.9" y="333.3" width="3" height="3" fill="#b5b5b5"/>
<rect x="75.42" y="331.72" width="3" height="3" fill="#b5b5b5"/>
<rect x="80.94" y="330.19" width="3" height="3" fill="#b5b5b5"/>
<rect x="86.46" y="329.13" width="3" height="3" fill="#b5b5b5"/>
<rect x="91.98" y="328.41" width="3" height="3" fill="#b5b5b5"/>
<rect x="97.5" y="327.7" width="3" height="3" fill="#b5b5b5"/>
<rect x="103.02" y="327.1" width="3" height="3" fill="#b5b5b5"/>
<rect x="108.54" y="326.51" width="3" height="3" fill="#b5b5b5"/>
<rect x="114.06" y="325.91" width="3" height="3" fill="#b5b5b5"/>
<rect x="119.58" y="325.31" width="3" height="3" fill="#b5b5b5"/>
<rect x="125.1" y="324.62" width="3" height="3" fill="#b5b5b5"/>
<rect x="130.62" y="323.92" width="3" height="3" fill="#b5b5b5"/>
<rect x="136.14" y="323.07" width="3" height="3" fill="#b5b5b5"/>
<rect x="141.66" y="322.22" width="3" height="3" fill="#b5b5b5"/>
<rect x="147.18" y="321.13" width="3" height="3" fill="#b5b5b5"/>
<rect x="152.7" y="320.04" width="3" height="3" fill="#b5b5b5"/>
<rect x="158.22" y="318.75" width="3" height="3" fill="#b5b5b5"/>
<rect x="163.74" y="317.44" width="3" height="3" fill="#b5b5b5"/>
<rect x="169.26" y="316" width="3" height="3" fill="#b5b5b5"/>
<rect x="174.78" y="314.56" width="3" height="3" fill="#b5b5b5"/>
<rect x="180.3" y="312.9" width="3" height="3" fill="#b5b5b5"/>
<rect x="185.82" y="311.22" width="3" height="3" fill="#b5b5b5"/>
<rect x="191.34" y="309.58" width="3" height="3" fill="#b5b5b5"/>
<rect x="196.86" y="307.94" width="3" height="3" fill="#b5b5b5"/>
<rect x="202.38" y="305.96" width="3" height="3" fill="#b5b5b5"/>
<rect x="207.9" y="303.97" width="3" height="3" fill="#b5b5b5"/>
<rect x="213.42" y="301.87" width="3" height="3" fill="#b5b5b5"/>
<rect x="218.94" y="299.76" width="3" height="3" fill="#b5b5b5"/>
<circle cx="71.4" cy="321.4" r="1.85" fill="#cdcdcd"/>
<circle cx="76.92" cy="317.56" r="1.85" fill="#cdcdcd"/>
<circle cx="82.44" cy="314.68" r="1.85" fill="#cdcdcd"/>
<circle cx="87.96" cy="312.46" r="1.85" fill="#cdcdcd"/>
<circle cx="93.48" cy="310.31" r="1.85" fill="#cdcdcd"/>
<circle cx="99" cy="308.6" r="1.85" fill="#cdcdcd"/>
<circle cx="104.52" cy="306.95" r="1.85" fill="#cdcdcd"/>
<circle cx="110.04" cy="305.32" r="1.85" fill="#cdcdcd"/>
<circle cx="115.56" cy="303.97" r="1.85" fill="#cdcdcd"/>
<circle cx="121.08" cy="302.63" r="1.85" fill="#cdcdcd"/>
<circle cx="126.6" cy="301.34" r="1.85" fill="#cdcdcd"/>
<circle cx="132.12" cy="300.04" r="1.85" fill="#cdcdcd"/>
<circle cx="137.64" cy="298.74" r="1.85" fill="#cdcdcd"/>
<circle cx="143.16" cy="297.43" r="1.85" fill="#cdcdcd"/>
<circle cx="148.68" cy="296.19" r="1.85" fill="#cdcdcd"/>
<circle cx="154.2" cy="294.95" r="1.85" fill="#cdcdcd"/>
<circle cx="159.72" cy="293.6" r="1.85" fill="#cdcdcd"/>
<circle cx="165.24" cy="292.24" r="1.85" fill="#cdcdcd"/>
<circle cx="170.76" cy="290.95" r="1.85" fill="#cdcdcd"/>
<circle cx="176.28" cy="289.65" r="1.85" fill="#cdcdcd"/>
<circle cx="181.8" cy="288.14" r="1.85" fill="#cdcdcd"/>
<circle cx="187.32" cy="286.62" r="1.85" fill="#cdcdcd"/>
<circle cx="192.84" cy="285.13" r="1.85" fill="#cdcdcd"/>
<circle cx="198.36" cy="283.64" r="1.85" fill="#cdcdcd"/>
<circle cx="203.88" cy="282.05" r="1.85" fill="#cdcdcd"/>
<circle cx="209.4" cy="280.46" r="1.85" fill="#cdcdcd"/>
<circle cx="214.92" cy="278.85" r="1.85" fill="#cdcdcd"/>
<circle cx="220.44" cy="277.25" r="1.85" fill="#cdcdcd"/>
<circle cx="71.4" cy="325.2" r="1.85" fill="#a4a4a4"/>
<circle cx="76.92" cy="321.46" r="1.85" fill="#a4a4a4"/>
<circle cx="82.44" cy="317.78" r="1.85" fill="#a4a4a4"/>
<circle cx="87.96" cy="315.56" r="1.85" fill="#a4a4a4"/>
<circle cx="93.48" cy="313.21" r="1.85" fill="#a4a4a4"/>
<circle cx="99" cy="311.3" r="1.85" fill="#a4a4a4"/>
<circle cx="104.52" cy="309.36" r="1.85" fill="#a4a4a4"/>
<circle cx="110.04" cy="307.52" r="1.85" fill="#a4a4a4"/>
<circle cx="115.56" cy="306.06" r="1.85" fill="#a4a4a4"/>
<circle cx="121.08" cy="304.53" r="1.85" fill="#a4a4a4"/>
<circle cx="126.6" cy="302.99" r="1.85" fill="#a4a4a4"/>
<circle cx="132.12" cy="301.45" r="1.85" fill="#a4a4a4"/>
<circle cx="137.64" cy="299.99" r="1.85" fill="#a4a4a4"/>
<circle cx="143.16" cy="298.54" r="1.85" fill="#a4a4a4"/>
<circle cx="148.68" cy="297.05" r="1.85" fill="#a4a4a4"/>
<circle cx="154.2" cy="295.55" r="1.85" fill="#a4a4a4"/>
<circle cx="159.72" cy="294.14" r="1.85" fill="#a4a4a4"/>
<circle cx="165.24" cy="292.74" r="1.85" fill="#a4a4a4"/>
<circle cx="170.76" cy="291.3" r="1.85" fill="#a4a4a4"/>
<circle cx="176.28" cy="289.86" r="1.85" fill="#a4a4a4"/>
<circle cx="181.8" cy="288.29" r="1.85" fill="#a4a4a4"/>
<circle cx="187.32" cy="286.72" r="1.85" fill="#a4a4a4"/>
<circle cx="192.84" cy="285.18" r="1.85" fill="#a4a4a4"/>
<circle cx="198.36" cy="283.64" r="1.85" fill="#a4a4a4"/>
<circle cx="203.88" cy="282.05" r="1.85" fill="#a4a4a4"/>
<circle cx="209.4" cy="280.46" r="1.85" fill="#a4a4a4"/>
<circle cx="214.92" cy="279.05" r="1.85" fill="#a4a4a4"/>
<circle cx="220.44" cy="277.64" r="1.85" fill="#a4a4a4"/>
<rect x="69.75" y="328.05" width="3.3" height="3.3" fill="#000000"/>
<rect x="75.27" y="326.18" width="3.3" height="3.3" fill="#000000"/>
<rect x="80.79" y="324.64" width="3.3" height="3.3" fill="#000000"/>
<rect x="86.31" y="323.87" width="3.3" height="3.3" fill="#000000"/>
<rect x="91.83" y="323.15" width="3.3" height="3.3" fill="#000000"/>
<rect x="97.35" y="322.35" width="3.3" height="3.3" fill="#000000"/>
<rect x="102.87" y="321.58" width="3.3" height="3.3" fill="#000000"/>
<rect x="108.39" y="320.96" width="3.3" height="3.3" fill="#000000"/>
<rect x="113.91" y="320.46" width="3.3" height="3.3" fill="#000000"/>
<rect x="119.43" y="319.96" width="3.3" height="3.3" fill="#000000"/>
<rect x="124.95" y="319.46" width="3.3" height="3.3" fill="#000000"/>
<rect x="130.47" y="318.97" width="3.3" height="3.3" fill="#000000"/>
<rect x="135.99" y="318.37" width="3.3" height="3.3" fill="#000000"/>
<rect x="141.51" y="317.77" width="3.3" height="3.3" fill="#000000"/>
<rect x="147.03" y="316.88" width="3.3" height="3.3" fill="#000000"/>
<rect x="152.55" y="315.98" width="3.3" height="3.3" fill="#000000"/>
<rect x="158.07" y="314.75" width="3.3" height="3.3" fill="#000000"/>
<rect x="163.59" y="313.49" width="3.3" height="3.3" fill="#000000"/>
<rect x="169.11" y="312.1" width="3.3" height="3.3" fill="#000000"/>
<rect x="174.63" y="310.71" width="3.3" height="3.3" fill="#000000"/>
<rect x="180.15" y="308.98" width="3.3" height="3.3" fill="#000000"/>
<rect x="185.67" y="307.47" width="3.3" height="3.3" fill="#000000"/>
<rect x="191.19" y="306.21" width="3.3" height="3.3" fill="#000000"/>
<rect x="196.71" y="304.4" width="3.3" height="3.3" fill="#000000"/>
<rect x="202.23" y="302.84" width="3.3" height="3.3" fill="#000000"/>
<rect x="207.75" y="300.82" width="3.3" height="3.3" fill="#000000"/>
<rect x="213.27" y="298.57" width="3.3" height="3.3" fill="#000000"/>
<rect x="218.79" y="296.22" width="3.3" height="3.3" fill="#000000"/>
<circle cx="71.4" cy="315.8" r="1.7" fill="#000000"/>
<circle cx="76.92" cy="312.15" r="1.7" fill="#000000"/>
<circle cx="82.44" cy="309.28" r="1.7" fill="#000000"/>
<circle cx="87.96" cy="307.06" r="1.7" fill="#000000"/>
<circle cx="93.48" cy="304.71" r="1.7" fill="#000000"/>
<circle cx="99" cy="302.8" r="1.7" fill="#000000"/>
<circle cx="104.52" cy="300.86" r="1.7" fill="#000000"/>
<circle cx="110.04" cy="299.19" r="1.7" fill="#000000"/>
<circle cx="115.56" cy="297.67" r="1.7" fill="#000000"/>
<circle cx="121.08" cy="296.33" r="1.7" fill="#000000"/>
<circle cx="126.6" cy="295" r="1.7" fill="#000000"/>
<circle cx="132.12" cy="293.64" r="1.7" fill="#000000"/>
<circle cx="137.64" cy="292.31" r="1.7" fill="#000000"/>
<circle cx="143.16" cy="291.03" r="1.7" fill="#000000"/>
<circle cx="148.68" cy="289.68" r="1.7" fill="#000000"/>
<circle cx="154.2" cy="288.44" r="1.7" fill="#000000"/>
<circle cx="159.72" cy="287.12" r="1.7" fill="#000000"/>
<circle cx="165.24" cy="285.64" r="1.7" fill="#000000"/>
<circle cx="170.76" cy="284.33" r="1.7" fill="#000000"/>
<circle cx="176.28" cy="283.05" r="1.7" fill="#000000"/>
<circle cx="181.8" cy="281.63" r="1.7" fill="#000000"/>
<circle cx="187.32" cy="280.42" r="1.7" fill="#000000"/>
<circle cx="192.84" cy="279.35" r="1.7" fill="#000000"/>
<circle cx="198.36" cy="278.23" r="1.7" fill="#000000"/>
<circle cx="203.88" cy="277.07" r="1.7" fill="#000000"/>
<circle cx="209.4" cy="275.46" r="1.7" fill="#000000"/>
<circle cx="214.92" cy="274.26" r="1.7" fill="#000000"/>
<circle cx="220.44" cy="272.45" r="1.7" fill="#000000"/>
<line x1="54.7" y1="227.55" x2="54.7" y2="349.65" stroke="#000" stroke-width="1.45"/>
<line x1="54.05" y1="349" x2="237.55" y2="349" stroke="#000" stroke-width="1.45"/>
<line x1="50.5" y1="228.2" x2="54.7" y2="228.2" stroke="#000" stroke-width="1.45"/>
<text x="50" y="232.26" font-size="11.45" text-anchor="end" >10000</text>
<line x1="50.5" y1="288.6" x2="54.7" y2="288.6" stroke="#000" stroke-width="1.45"/>
<text x="50" y="292.66" font-size="11.45" text-anchor="end" >1000</text>
<line x1="50.5" y1="349" x2="54.7" y2="349" stroke="#000" stroke-width="1.45"/>
<text x="50" y="353.06" font-size="11.45" text-anchor="end" >100</text>
<line x1="71.3" y1="349" x2="71.3" y2="353.2" stroke="#000" stroke-width="1.45"/>
<text x="71.3" y="363.9" font-size="11.45" text-anchor="middle" >0.1</text>
<line x1="126.5" y1="349" x2="126.5" y2="353.2" stroke="#000" stroke-width="1.45"/>
<text x="126.5" y="363.9" font-size="11.45" text-anchor="middle" >1</text>
<line x1="181.7" y1="349" x2="181.7" y2="353.2" stroke="#000" stroke-width="1.45"/>
<text x="181.7" y="363.9" font-size="11.45" text-anchor="middle" >10</text>
<line x1="236.9" y1="349" x2="236.9" y2="353.2" stroke="#000" stroke-width="1.45"/>
<text x="236.9" y="363.9" font-size="11.45" text-anchor="middle" >100</text>
<text x="146" y="379.8" font-size="11.45" text-anchor="middle" >Frequency (Hz)</text>
<text transform="translate(10.6,287.8) rotate(-90)" font-size="11.45" text-anchor="middle">G' [Pa] G'' [Pa]</text>
<text x="42.2" y="216.8" font-size="16.5" text-anchor="start" >c</text>
<circle cx="240.6" cy="237.3" r="1.7" fill="#cdcdcd"/>
<text x="254.3" y="241.41" font-size="11.45" text-anchor="start" >G' C1</text>
<rect x="239" y="249.1" width="3.2" height="3.2" fill="#cdcdcd"/>
<text x="254.3" y="254.81" font-size="11.45" text-anchor="start" >G'' C1</text>
<circle cx="240.6" cy="265.1" r="1.85" fill="#a4a4a4"/>
<text x="254.3" y="269.21" font-size="11.45" text-anchor="start" >G' C2</text>
<rect x="239.25" y="277.65" width="2.7" height="2.7" fill="#a4a4a4"/>
<text x="254.3" y="283.11" font-size="11.45" text-anchor="start" >G'' C2</text>
<circle cx="240.6" cy="292.8" r="1.85" fill="#000000"/>
<text x="254.3" y="296.91" font-size="11.45" text-anchor="start" >G' C3</text>
<rect x="238.85" y="304.65" width="3.5" height="3.5" fill="#000000"/>
<text x="254.3" y="310.51" font-size="11.45" text-anchor="start" >G'' C3</text>
<path d="M352.7,352.4 L352.73,351.63 L352.91,346.75 L353.42,336.77 L354.41,325.45 L356.05,315.99 L358.49,307.64 L361.89,299.51 L366.41,291.98 L372.23,285.45 L379.49,279.77 L388.35,274.41 L398.99,268.78 L411.55,262.46 L426.2,255.18 L426.25,255.35 L426.4,255.86 L426.64,256.67 L426.98,257.73 L427.42,258.96 L427.96,260.31 L428.59,261.7 L429.33,263.09 L430.16,264.41 L431.08,265.64 L432.11,266.77 L433.23,267.79 L434.46,268.7 L435.77,269.52 L437.19,270.26 L438.71,270.94 L440.32,271.57 L442.03,272.16 L443.83,272.72 L445.74,273.27 L447.74,273.79 L449.84,274.3 L452.04,274.79 L454.34,275.27 L456.73,275.74 L459.22,276.19 L461.81,276.63 L464.5,277.04 L467.28,277.44 L470.16,277.83 L473.14,278.19 L476.22,278.53 L479.4,278.85 L482.67,279.16 L486.04,279.44 L489.51,279.71 L493.07,279.95 L496.74,280.18 L500.5,280.39" fill="none" stroke="#d0d0d0" stroke-width="4.2" stroke-linecap="round" stroke-linejoin="round"/>
<path d="M352.7,352.4 L352.73,352 L352.91,349.6 L353.42,345.16 L354.41,339.49 L356.05,332.03 L358.49,322.77 L361.89,312.62 L366.41,302.71 L372.23,293.84 L379.49,286.21 L388.35,279.46 L398.99,272.94 L411.55,266.03 L426.2,258.3 L426.25,259.09 L426.4,261.2 L426.64,264 L426.98,266.8 L427.42,269.14 L427.96,270.87 L428.59,272.06 L429.33,272.9 L430.16,273.56 L431.08,274.15 L432.11,274.73 L433.23,275.32 L434.46,275.92 L435.77,276.53 L437.19,277.15 L438.71,277.76 L440.32,278.38 L442.03,278.98 L443.83,279.57 L445.74,280.14 L447.74,280.69 L449.84,281.21 L452.04,281.71 L454.34,282.18 L456.73,282.62 L459.22,283.03 L461.81,283.41 L464.5,283.77 L467.28,284.09 L470.16,284.38 L473.14,284.65 L476.22,284.89 L479.4,285.1 L482.67,285.29 L486.04,285.46 L489.51,285.61 L493.07,285.74 L496.74,285.86 L500.5,285.96" fill="none" stroke="#a2a2a2" stroke-width="4.2" stroke-linecap="round" stroke-linejoin="round"/>
<path d="M352.7,352.4 L352.73,352.06 L352.91,349.92 L353.42,345.69 L354.41,341.14 L356.05,337.41 L358.49,333.78 L361.89,329.61 L366.41,325.01 L372.23,320.28 L379.49,315.69 L388.35,311.37 L398.99,307.29 L411.55,303.28 L426.2,299.15 L426.25,299.47 L426.4,300.36 L426.64,301.64 L426.98,303.1 L427.42,304.53 L427.96,305.78 L428.59,306.81 L429.33,307.62 L430.16,308.25 L431.08,308.77 L432.11,309.22 L433.23,309.65 L434.46,310.07 L435.77,310.48 L437.19,310.9 L438.71,311.32 L440.32,311.73 L442.03,312.15 L443.83,312.56 L445.74,312.96 L447.74,313.34 L449.84,313.72 L452.04,314.08 L454.34,314.42 L456.73,314.75 L459.22,315.06 L461.81,315.34 L464.5,315.61 L467.28,315.86 L470.16,316.09 L473.14,316.31 L476.22,316.5 L479.4,316.68 L482.67,316.84 L486.04,316.98 L489.51,317.11 L493.07,317.23 L496.74,317.33 L500.5,317.42" fill="none" stroke="#000000" stroke-width="4.5" stroke-linecap="round" stroke-linejoin="round"/>
<line x1="352.7" y1="228.35" x2="352.7" y2="353.05" stroke="#000" stroke-width="1.45"/>
<line x1="352.05" y1="352.4" x2="539.85" y2="352.4" stroke="#000" stroke-width="1.45"/>
<line x1="348.5" y1="352.4" x2="352.7" y2="352.4" stroke="#000" stroke-width="1.45"/>
<text x="347.8" y="357.13" font-size="11.65" text-anchor="end" >0.00</text>
<line x1="348.5" y1="331.83" x2="352.7" y2="331.83" stroke="#000" stroke-width="1.45"/>
<text x="347.8" y="336.56" font-size="11.65" text-anchor="end" >0.01</text>
<line x1="348.5" y1="311.27" x2="352.7" y2="311.27" stroke="#000" stroke-width="1.45"/>
<text x="347.8" y="316" font-size="11.65" text-anchor="end" >0.02</text>
<line x1="348.5" y1="290.7" x2="352.7" y2="290.7" stroke="#000" stroke-width="1.45"/>
<text x="347.8" y="295.43" font-size="11.65" text-anchor="end" >0.03</text>
<line x1="348.5" y1="270.13" x2="352.7" y2="270.13" stroke="#000" stroke-width="1.45"/>
<text x="347.8" y="274.86" font-size="11.65" text-anchor="end" >0.04</text>
<line x1="348.5" y1="249.57" x2="352.7" y2="249.57" stroke="#000" stroke-width="1.45"/>
<text x="347.8" y="254.3" font-size="11.65" text-anchor="end" >0.05</text>
<line x1="348.5" y1="229" x2="352.7" y2="229" stroke="#000" stroke-width="1.45"/>
<text x="347.8" y="233.73" font-size="11.65" text-anchor="end" >0.06</text>
<line x1="352.7" y1="352.4" x2="352.7" y2="356.6" stroke="#000" stroke-width="1.45"/>
<text x="352.7" y="368" font-size="11.65" text-anchor="middle" >0</text>
<line x1="390" y1="352.4" x2="390" y2="356.6" stroke="#000" stroke-width="1.45"/>
<text x="390" y="368" font-size="11.65" text-anchor="middle" >150</text>
<line x1="427.3" y1="352.4" x2="427.3" y2="356.6" stroke="#000" stroke-width="1.45"/>
<text x="427.3" y="368" font-size="11.65" text-anchor="middle" >300</text>
<line x1="464.6" y1="352.4" x2="464.6" y2="356.6" stroke="#000" stroke-width="1.45"/>
<text x="464.6" y="368" font-size="11.65" text-anchor="middle" >450</text>
<line x1="501.9" y1="352.4" x2="501.9" y2="356.6" stroke="#000" stroke-width="1.45"/>
<text x="501.9" y="368" font-size="11.65" text-anchor="middle" >600</text>
<line x1="539.2" y1="352.4" x2="539.2" y2="356.6" stroke="#000" stroke-width="1.45"/>
<text x="539.2" y="368" font-size="11.65" text-anchor="middle" >750</text>
<text x="445.7" y="383.9" font-size="11.65" text-anchor="middle" >Shear rate (1/s)</text>
<text transform="translate(317.4,289.3) rotate(-90)" font-size="11.65" text-anchor="middle">J [1/Pa]</text>
<text x="356" y="220.6" font-size="16.5" text-anchor="start" >d</text>
<circle cx="513.3" cy="229.4" r="2.4" fill="#d0d0d0"/>
<text x="527" y="233.58" font-size="11.65" text-anchor="start" >C1</text>
<circle cx="513.3" cy="243.5" r="2.4" fill="#a2a2a2"/>
<text x="527" y="247.68" font-size="11.65" text-anchor="start" >C2</text>
<circle cx="513.3" cy="257.7" r="2.4" fill="#000000"/>
<text x="527" y="261.88" font-size="11.65" text-anchor="start" >C3</text>
</svg>
</body></html>
